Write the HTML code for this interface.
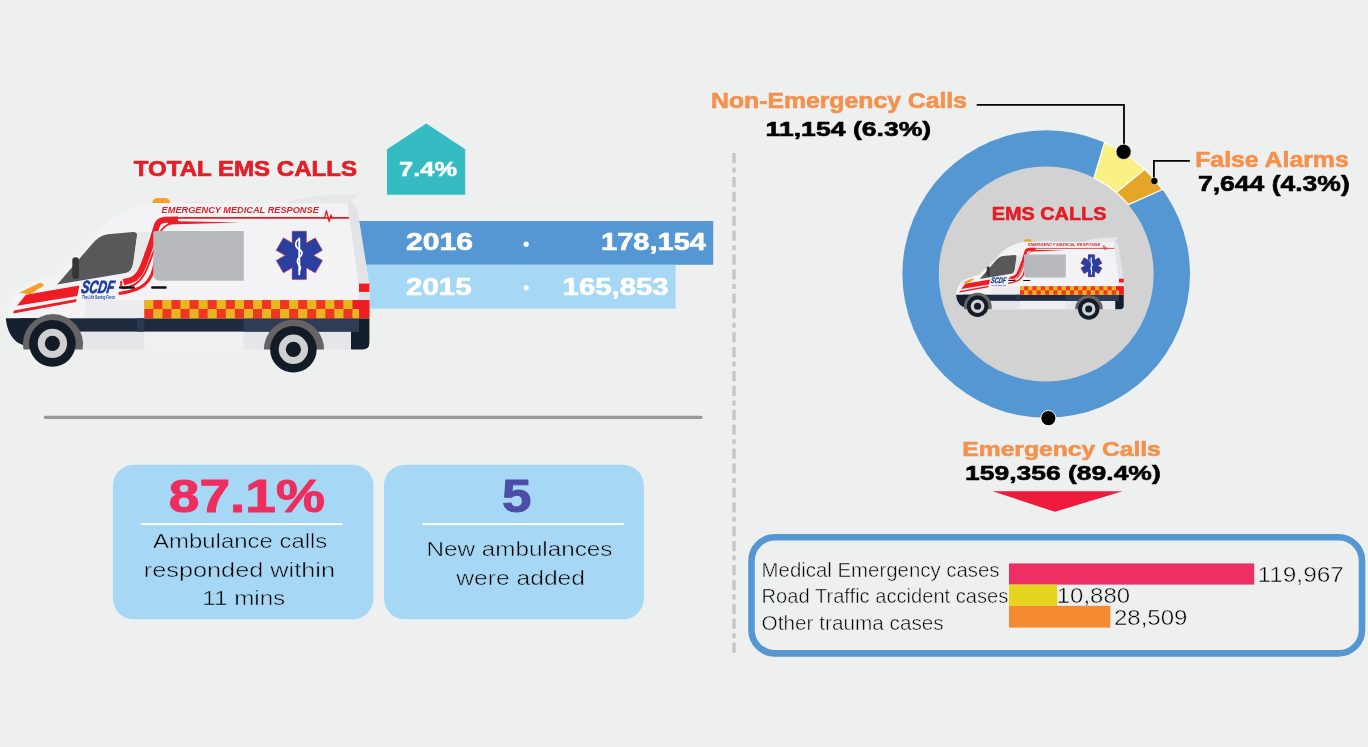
<!DOCTYPE html>
<html lang="en"><head><meta charset="utf-8"><title>EMS Calls</title>
<style>html,body{margin:0;padding:0;background:#eef0f0;}body{width:1368px;height:747px;overflow:hidden;}svg{display:block;will-change:transform;font-family:"Liberation Sans",sans-serif;}text{white-space:pre;}</style></head><body>
<svg width="1368" height="747" viewBox="0 0 1368 747">
<defs><g id="amb">
<path d="M283 203.5 C300 196 330 194 357 194.5 L350 204.5 Z" fill="#e6e7e9"/>
<path d="M180 203.5 C190 200 205 200 214 203.5 Z" fill="#e6e7e9"/>
<path d="M5.8 318.5 C6.5 309 8.5 303 12 297 C16 290 21 287 30 283 L58 273.5 L96 236 C106 222 122 209.5 152 203.6 L348.6 203.6 L359.8 284 L369.4 284 L369.4 349.6 L22.9 349.6 L22.9 344.8 C13 342 7 332 5.8 318.5 Z" fill="#f3f3f5"/>
<path d="M347.4 203.6 L352.6 203.6 C355.5 205 357 208 358 213 L369.4 284 L369.4 300.2 L358.6 300.2 L358.6 284 Z" fill="#e2e3e6"/>
<path d="M86 300 L144.4 300 L144.4 349.6 L76 349.6 C80 335 84 318 86 300 Z" fill="#ececee"/>
<rect x="60" y="331.6" width="291" height="18" fill="#e5e6e9"/>
<rect x="144.4" y="331.6" width="99" height="18" fill="#f0f0f2"/>
<rect x="20" y="318.3" width="340" height="13.3" fill="#1f2a3e"/>
<rect x="243.6" y="318.3" width="115.4" height="13.3" fill="#2e3c55"/>
<rect x="137" y="318.3" width="7.4" height="13.3" fill="#2b3850"/>
<path d="M5.8 318.3 L40 318.3 L40 346.5 L23 345 C13 342 7 332 5.8 318.3 Z" fill="#15212f"/>
<path d="M351 331.6 L359 331.6 L359 318.3 L369.4 318.3 L369.4 342.6 Q369.4 349.6 362.4 349.6 L351 349.6 Z" fill="#141d2b"/>
<rect x="144.4" y="300.1" width="224.99999999999997" height="18.099999999999966" fill="#f08a22"/>
<rect x="144.40" y="300.1" width="9.05" height="8.90" fill="#e9b521"/>
<rect x="144.40" y="309.0" width="9.05" height="9.20" fill="#f03523"/>
<rect x="153.45" y="300.1" width="9.05" height="8.90" fill="#f03523"/>
<rect x="153.45" y="309.0" width="9.05" height="9.20" fill="#e9b521"/>
<rect x="162.50" y="300.1" width="9.05" height="8.90" fill="#e9b521"/>
<rect x="162.50" y="309.0" width="9.05" height="9.20" fill="#f03523"/>
<rect x="171.55" y="300.1" width="9.05" height="8.90" fill="#f03523"/>
<rect x="171.55" y="309.0" width="9.05" height="9.20" fill="#e9b521"/>
<rect x="180.60" y="300.1" width="9.05" height="8.90" fill="#e9b521"/>
<rect x="180.60" y="309.0" width="9.05" height="9.20" fill="#f03523"/>
<rect x="189.65" y="300.1" width="9.05" height="8.90" fill="#f03523"/>
<rect x="189.65" y="309.0" width="9.05" height="9.20" fill="#e9b521"/>
<rect x="198.70" y="300.1" width="9.05" height="8.90" fill="#e9b521"/>
<rect x="198.70" y="309.0" width="9.05" height="9.20" fill="#f03523"/>
<rect x="207.75" y="300.1" width="9.05" height="8.90" fill="#f03523"/>
<rect x="207.75" y="309.0" width="9.05" height="9.20" fill="#e9b521"/>
<rect x="216.80" y="300.1" width="9.05" height="8.90" fill="#e9b521"/>
<rect x="216.80" y="309.0" width="9.05" height="9.20" fill="#f03523"/>
<rect x="225.85" y="300.1" width="9.05" height="8.90" fill="#f03523"/>
<rect x="225.85" y="309.0" width="9.05" height="9.20" fill="#e9b521"/>
<rect x="234.90" y="300.1" width="9.05" height="8.90" fill="#e9b521"/>
<rect x="234.90" y="309.0" width="9.05" height="9.20" fill="#f03523"/>
<rect x="243.95" y="300.1" width="9.05" height="8.90" fill="#f03523"/>
<rect x="243.95" y="309.0" width="9.05" height="9.20" fill="#e9b521"/>
<rect x="253.00" y="300.1" width="9.05" height="8.90" fill="#e9b521"/>
<rect x="253.00" y="309.0" width="9.05" height="9.20" fill="#f03523"/>
<rect x="262.05" y="300.1" width="9.05" height="8.90" fill="#f03523"/>
<rect x="262.05" y="309.0" width="9.05" height="9.20" fill="#e9b521"/>
<rect x="271.10" y="300.1" width="9.05" height="8.90" fill="#e9b521"/>
<rect x="271.10" y="309.0" width="9.05" height="9.20" fill="#f03523"/>
<rect x="280.15" y="300.1" width="9.05" height="8.90" fill="#f03523"/>
<rect x="280.15" y="309.0" width="9.05" height="9.20" fill="#e9b521"/>
<rect x="289.20" y="300.1" width="9.05" height="8.90" fill="#e9b521"/>
<rect x="289.20" y="309.0" width="9.05" height="9.20" fill="#f03523"/>
<rect x="298.25" y="300.1" width="9.05" height="8.90" fill="#f03523"/>
<rect x="298.25" y="309.0" width="9.05" height="9.20" fill="#e9b521"/>
<rect x="307.30" y="300.1" width="9.05" height="8.90" fill="#e9b521"/>
<rect x="307.30" y="309.0" width="9.05" height="9.20" fill="#f03523"/>
<rect x="316.35" y="300.1" width="9.05" height="8.90" fill="#f03523"/>
<rect x="316.35" y="309.0" width="9.05" height="9.20" fill="#e9b521"/>
<rect x="325.40" y="300.1" width="9.05" height="8.90" fill="#e9b521"/>
<rect x="325.40" y="309.0" width="9.05" height="9.20" fill="#f03523"/>
<rect x="334.45" y="300.1" width="9.05" height="8.90" fill="#f03523"/>
<rect x="334.45" y="309.0" width="9.05" height="9.20" fill="#e9b521"/>
<rect x="343.50" y="300.1" width="9.05" height="8.90" fill="#e9b521"/>
<rect x="343.50" y="309.0" width="9.05" height="9.20" fill="#f03523"/>
<rect x="352.55" y="300.1" width="9.05" height="8.90" fill="#f03523"/>
<rect x="352.55" y="309.0" width="9.05" height="9.20" fill="#e9b521"/>
<rect x="359" y="300.1" width="10.4" height="18.099999999999966" fill="#ee1c25"/>
<rect x="352.8" y="300.1" width="7" height="8.899999999999977" fill="#ee1c25"/>
<rect x="359" y="283.6" width="10.4" height="8.3" fill="#ee1c25"/>
<path d="M23.4 349.6 A30.1 30.1 0 1 1 82.6 349.6 Z" fill="#656366"/>
<path d="M263.9 349.6 A30.1 30.1 0 0 1 324.1 349.6 Z" fill="#656366"/>
<circle cx="52.4" cy="343.4" r="23.3" fill="#131b26"/>
<circle cx="52.4" cy="343.4" r="14.7" fill="#cfd0d2"/>
<circle cx="52.4" cy="343.4" r="7.6" fill="#131b26"/>
<circle cx="293.4" cy="349.3" r="23.3" fill="#131b26"/>
<circle cx="293.4" cy="349.3" r="14.7" fill="#cfd0d2"/>
<circle cx="293.4" cy="349.3" r="7.6" fill="#131b26"/>
<path d="M57.2 284.5 L93 243 C98 237.5 102 235.5 108 234.3 L133 232 Q137.5 231.8 137.2 236 L133.3 263 Q132 271.5 125.5 273 Z" fill="#58585b"/>
<rect x="72.3" y="257.3" width="6.6" height="21.7" rx="3.2" fill="#333537"/>
<path d="M19 292.8 L40.5 282.6 L44.5 285.2 L30 294.2 Z" fill="#f5a027"/>
<path d="M25.9 294.8 L79.4 285.4 L77.3 296 L16.9 305.7 Z" fill="#ee1c25"/>
<path d="M13.9 310.5 L76.5 299 L75.9 302 L13.3 313.5 Z" fill="#ee1c25"/>
<path d="M137.4 232 L149 232 L141 272 L126 273.5 Q132 271.5 133.3 263 Z" fill="#e8e8eb"/>
<path d="M178 219.6 L166 219.7 C160.5 220 158.5 222 157.3 224.5 L154.7 232.6 L151.4 243.3 L144.6 262.2 C142.5 268 140.5 272 138.4 274.7 C136 277.5 134 279 131 280.1 L123.5 282.3" stroke="#ee1c25" stroke-width="6.1" fill="none" stroke-linejoin="round"/>
<path d="M174 222.6 C167 224 163 227.5 161 231 L158.4 238 L155.1 247.6 L148.3 265.5 C146 271.5 144 275 142.1 277.5 C140 280.5 138 282 136 283.6 C132 286 128 287.3 122.5 288.6" stroke="#ee1c25" stroke-width="1.9" fill="none" stroke-linejoin="round"/>
<path d="M155.5 258 C154.5 268 152.5 274 150 278 C147.5 282.5 143 286.5 137 289 C131 291.5 125 292.6 118.7 293.6" stroke="#ee1c25" stroke-width="3" fill="none"/>
<path d="M121.2 281 L121.2 286" stroke="#ee1c25" stroke-width="2" fill="none"/>
<path d="M168 221 L240 222.6 L168 224.6 Z" fill="#ee1c25"/>
<path d="M166 217.9 L349 217.9" stroke="#d9252a" stroke-width="1.7" fill="none"/>
<path d="M322 217.9 L324.6 217.9 L326.4 210.6 L329.2 221.6 L331 215 L332.4 217.9 L335 217.9" stroke="#d9252a" stroke-width="1.3" fill="none" stroke-linejoin="round"/>
<path d="M155.3 231 L243.8 231 L243.8 280.8 L160.3 280.8 Q153.3 280.8 153.3 273.8 L153.3 233 Q153.3 231 155.3 231 Z" fill="#b8b9bc"/>
<path d="M120.2 287.6 L133.7 287.6 M152.3 287.6 L165.5 287.6" stroke="#111" stroke-width="2.5" stroke-linecap="round"/>
<path d="M152.2 202.9 Q152.6 198 158 198 L164.5 198 Q169.8 198 170.2 202.9 Z" fill="#f5a027"/>
<g transform="translate(299.3 255.4)"><rect x="-7.2" y="-24.2" width="14.4" height="48.4" transform="rotate(0)" fill="#2b3f9e" stroke="#e2474f" stroke-width="0.9" stroke-dasharray="1.2 0.9"/><rect x="-7.2" y="-22.6" width="14.4" height="45.2" transform="rotate(60)" fill="#2b3f9e" stroke="#e2474f" stroke-width="0.9" stroke-dasharray="1.2 0.9"/><rect x="-7.2" y="-22.6" width="14.4" height="45.2" transform="rotate(120)" fill="#2b3f9e" stroke="#e2474f" stroke-width="0.9" stroke-dasharray="1.2 0.9"/><rect x="-6.6" y="-23.6" width="13.2" height="47.2" transform="rotate(0)" fill="#2b3f9e"/><rect x="-6.6" y="-22.0" width="13.2" height="44.0" transform="rotate(60)" fill="#2b3f9e"/><rect x="-6.6" y="-22.0" width="13.2" height="44.0" transform="rotate(120)" fill="#2b3f9e"/><path d="M0 -17 L0 19" stroke="#fff" stroke-width="1.9" stroke-linecap="round" fill="none"/><path d="M-1 -16 C-5 -13 -4 -8 0 -6 C4 -4 3 0 0 2 C-3 4 -2 8 0 10 C2 12 1 14 0 15" stroke="#fff" stroke-width="1.7" fill="none" stroke-linecap="round"/></g>
<text x="161.6" y="213.3" font-size="9.3" font-weight="700" font-style="italic" fill="#d9252a" textLength="157.2" lengthAdjust="spacingAndGlyphs">EMERGENCY MEDICAL RESPONSE</text>
<text x="80.4" y="293.4" font-size="17.6" font-weight="700" font-style="italic" fill="#1d3e9c" stroke="#1d3e9c" stroke-width="0.7" textLength="33" lengthAdjust="spacingAndGlyphs" transform="translate(80.4 293.4) skewX(-10) translate(-80.4 -293.4)">SCDF</text>
<text x="82" y="299.3" font-size="5.4" font-weight="700" font-style="italic" fill="#1d3e9c" textLength="33" lengthAdjust="spacingAndGlyphs">The Life Saving Force</text>
</g></defs>
<rect width="1368" height="747" fill="#eef0f0"/>
<rect x="352" y="221" width="361.2" height="43.8" fill="#5597d3"/>
<rect x="352" y="264.8" width="323.6" height="43.8" fill="#a6d7f4"/>
<circle cx="526.2" cy="244.2" r="2.6" fill="#fff"/><circle cx="526.2" cy="287.8" r="2.6" fill="#fff"/>
<path d="M387 149.2 L426.3 123.6 L465.2 149.2 L465.2 194.8 L387 194.8 Z" fill="#35bcc2"/>
<use href="#amb"/>
<path d="M45.4 417.4 L701 417.4" stroke="#999" stroke-width="3.2" stroke-linecap="round"/>
<rect x="112.9" y="464.7" width="260.6" height="154.6" rx="21" fill="#a6d7f4"/>
<rect x="383.9" y="464.7" width="260" height="154.6" rx="21" fill="#a6d7f4"/>
<rect x="141" y="523.1" width="201.7" height="2" fill="#fdfefe"/>
<rect x="422.3" y="523.1" width="201.6" height="2" fill="#fdfefe"/>
<path d="M734 153 L734 654" stroke="#c4c6ca" stroke-width="3.4" stroke-dasharray="10.2 4.4 5 4.4 10.2 4.6" fill="none"/>
<circle cx="1046.2" cy="274.05" r="143.8" fill="#5597d3"/>
<circle cx="1046.2" cy="274.05" r="107.5" fill="#d2d2d2"/>
<path d="M1104.5 142.6 A143.8 143.8 0 0 1 1144.7 169.3 L1116.3 192.5 A107.5 107.5 0 0 0 1094.0 177.8 Z" fill="#f9f184" stroke="#fdfdf6" stroke-width="1.3" stroke-linejoin="round"/>
<path d="M1144.7 169.3 A143.8 143.8 0 0 1 1162.5 189.5 L1128.4 204.7 A107.5 107.5 0 0 0 1116.3 192.5 Z" fill="#e5a529" stroke="#fdfdf6" stroke-width="1.3" stroke-linejoin="round"/>
<use href="#amb" transform="translate(953.38 147.9) scale(0.4612)"/>
<path d="M976.7 104.8 L1124 104.8 L1124 151" stroke="#000" stroke-width="1.8" fill="none"/>
<path d="M1189.9 160.9 L1153.9 160.9 L1153.9 181" stroke="#000" stroke-width="1.8" fill="none"/>
<circle cx="1123.6" cy="151.8" r="7.6" fill="#000" stroke="#f4f4ee" stroke-width="0.8"/>
<circle cx="1154.3" cy="181" r="3.6" fill="#000" stroke="#f4e6c0" stroke-width="0.6"/>
<circle cx="1048.4" cy="418.1" r="7.6" fill="#000" stroke="#fff" stroke-width="1"/>
<path d="M992.6 491.2 L1122.5 491.2 L1054.9 511.8 Z" fill="#ee1b3d"/>
<rect x="751.5" y="537.2" width="610.5" height="116.2" rx="23.5" fill="none" stroke="#5597d3" stroke-width="6.6"/>
<rect x="1009" y="563.4" width="245.2" height="21.2" fill="#ee2f63"/>
<rect x="1009" y="584.6" width="48.3" height="21.2" fill="#e5d51f"/>
<rect x="1009" y="605.8" width="101.3" height="21.8" fill="#f58a33"/>
<g id="txt">
<text id="t0" x="133.80" y="176.30" font-size="22.0" font-weight="700" fill="#e31e26" stroke="#e31e26" stroke-width="0.7" stroke-linejoin="round" textLength="223.20" lengthAdjust="spacingAndGlyphs">TOTAL EMS CALLS</text>
<text id="t1" x="399.00" y="176.30" font-size="21.0" font-weight="700" fill="#ffffff" stroke="#ffffff" stroke-width="0.5" stroke-linejoin="round" textLength="58.02" lengthAdjust="spacingAndGlyphs">7.4%</text>
<text id="t2" x="406.00" y="249.70" font-size="23.6" font-weight="700" fill="#ffffff" stroke="#ffffff" stroke-width="0.6" stroke-linejoin="round" textLength="67.06" lengthAdjust="spacingAndGlyphs">2016</text>
<text id="t3" x="601.00" y="249.70" font-size="23.6" font-weight="700" fill="#ffffff" stroke="#ffffff" stroke-width="0.6" stroke-linejoin="round" textLength="105.01" lengthAdjust="spacingAndGlyphs">178,154</text>
<text id="t4" x="406.00" y="294.70" font-size="23.0" font-weight="700" fill="#ffffff" stroke="#ffffff" stroke-width="0.6" stroke-linejoin="round" textLength="65.64" lengthAdjust="spacingAndGlyphs">2015</text>
<text id="t5" x="562.60" y="294.70" font-size="23.0" font-weight="700" fill="#ffffff" stroke="#ffffff" stroke-width="0.6" stroke-linejoin="round" textLength="105.97" lengthAdjust="spacingAndGlyphs">165,853</text>
<text id="t6" x="711.00" y="107.90" font-size="21.2" font-weight="700" fill="#f4914c" stroke="#f4914c" stroke-width="0.6" stroke-linejoin="round" textLength="256.02" lengthAdjust="spacingAndGlyphs">Non-Emergency Calls</text>
<text id="t7" x="765.60" y="136.00" font-size="20.6" font-weight="700" fill="#000000" stroke="#000000" stroke-width="0.6" stroke-linejoin="round" textLength="165.64" lengthAdjust="spacingAndGlyphs">11,154 (6.3%)</text>
<text id="t8" x="1195.20" y="167.30" font-size="21.6" font-weight="700" fill="#f4914c" stroke="#f4914c" stroke-width="0.6" stroke-linejoin="round" textLength="153.53" lengthAdjust="spacingAndGlyphs">False Alarms</text>
<text id="t9" x="1198.00" y="191.00" font-size="21.4" font-weight="700" fill="#000000" stroke="#000000" stroke-width="0.6" stroke-linejoin="round" textLength="151.74" lengthAdjust="spacingAndGlyphs">7,644 (4.3%)</text>
<text id="t10" x="991.80" y="219.70" font-size="18.4" font-weight="700" fill="#e31e26" stroke="#e31e26" stroke-width="0.6" stroke-linejoin="round" textLength="114.62" lengthAdjust="spacingAndGlyphs">EMS CALLS</text>
<text id="t11" x="962.30" y="455.80" font-size="21.0" font-weight="700" fill="#f4914c" stroke="#f4914c" stroke-width="0.6" stroke-linejoin="round" textLength="198.53" lengthAdjust="spacingAndGlyphs">Emergency Calls</text>
<text id="t12" x="965.00" y="480.40" font-size="21.0" font-weight="700" fill="#000000" stroke="#000000" stroke-width="0.6" stroke-linejoin="round" textLength="195.73" lengthAdjust="spacingAndGlyphs">159,356 (89.4%)</text>
<text id="t13" x="168.80" y="512.40" font-size="46.0" font-weight="700" fill="#ee2d5f" stroke="#ee2d5f" stroke-width="1.0" stroke-linejoin="round" textLength="156.03" lengthAdjust="spacingAndGlyphs">87.1%</text>
<text id="t14" x="502.00" y="512.30" font-size="46.0" font-weight="700" fill="#4b4da6" stroke="#4b4da6" stroke-width="1.0" stroke-linejoin="round" textLength="29.43" lengthAdjust="spacingAndGlyphs">5</text>
<text id="t15" x="153.10" y="547.80" font-size="20.8" font-weight="400" fill="#000000" stroke="#a6d7f4" stroke-width="0.5" stroke-linejoin="round" textLength="174.22" lengthAdjust="spacingAndGlyphs">Ambulance calls</text>
<text id="t16" x="143.80" y="576.50" font-size="20.8" font-weight="400" fill="#000000" stroke="#a6d7f4" stroke-width="0.5" stroke-linejoin="round" textLength="191.16" lengthAdjust="spacingAndGlyphs">responded within</text>
<text id="t17" x="202.30" y="605.40" font-size="20.8" font-weight="400" fill="#000000" stroke="#a6d7f4" stroke-width="0.5" stroke-linejoin="round" textLength="82.93" lengthAdjust="spacingAndGlyphs">11 mins</text>
<text id="t18" x="426.50" y="556.40" font-size="20.8" font-weight="400" fill="#000000" stroke="#a6d7f4" stroke-width="0.5" stroke-linejoin="round" textLength="185.95" lengthAdjust="spacingAndGlyphs">New ambulances</text>
<text id="t19" x="456.20" y="584.70" font-size="20.8" font-weight="400" fill="#000000" stroke="#a6d7f4" stroke-width="0.5" stroke-linejoin="round" textLength="128.85" lengthAdjust="spacingAndGlyphs">were added</text>
<text id="t20" x="761.60" y="577.00" font-size="21.0" font-weight="400" fill="#000000" stroke="#eef0f0" stroke-width="0.5" stroke-linejoin="round" textLength="237.94" lengthAdjust="spacingAndGlyphs">Medical Emergency cases</text>
<text id="t21" x="761.60" y="603.00" font-size="21.0" font-weight="400" fill="#000000" stroke="#eef0f0" stroke-width="0.5" stroke-linejoin="round" textLength="246.74" lengthAdjust="spacingAndGlyphs">Road Traffic accident cases</text>
<text id="t22" x="761.60" y="629.60" font-size="21.0" font-weight="400" fill="#000000" stroke="#eef0f0" stroke-width="0.5" stroke-linejoin="round" textLength="182.14" lengthAdjust="spacingAndGlyphs">Other trauma cases</text>
<text id="t23" x="1257.40" y="582.00" font-size="22.5" font-weight="400" fill="#000000" stroke="#eef0f0" stroke-width="0.5" stroke-linejoin="round" textLength="86.52" lengthAdjust="spacingAndGlyphs">119,967</text>
<text id="t24" x="1056.80" y="603.00" font-size="22.5" font-weight="400" fill="#000000" stroke="#eef0f0" stroke-width="0.5" stroke-linejoin="round" textLength="73.23" lengthAdjust="spacingAndGlyphs">10,880</text>
<text id="t25" x="1113.90" y="624.50" font-size="22.5" font-weight="400" fill="#000000" stroke="#eef0f0" stroke-width="0.5" stroke-linejoin="round" textLength="73.61" lengthAdjust="spacingAndGlyphs">28,509</text>
</g>
</svg></body></html>
